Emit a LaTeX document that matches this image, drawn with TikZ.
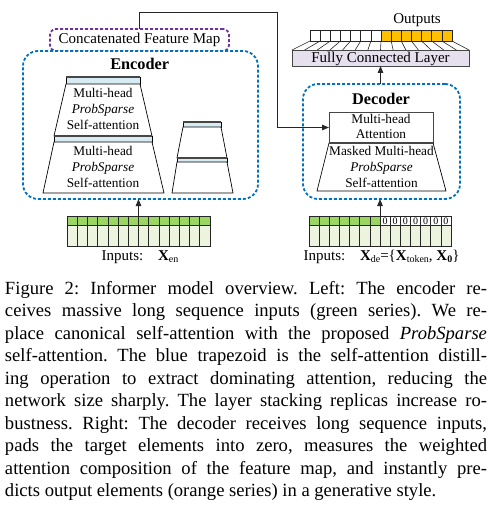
\documentclass[tikz,border=0pt]{standalone}
\usepackage{fontspec}
\setmainfont{Liberation Serif}
\usetikzlibrary{arrows.meta,calc}
\definecolor{dblue}{RGB}{0,112,192}
\definecolor{dpurple}{RGB}{112,48,160}
\definecolor{capblue}{RGB}{214,235,242}
\definecolor{capedge}{RGB}{70,70,70}
\definecolor{ggreen}{RGB}{156,214,98}
\definecolor{lgreen}{RGB}{236,244,224}
\definecolor{orng}{RGB}{255,192,0}
\definecolor{fcfill}{RGB}{230,224,238}
\frenchspacing
\begin{document}
\begin{tikzpicture}[x=1pt,y=-1pt,
  every node/.style={inner sep=0pt,outer sep=0pt},
  bluedash/.style={draw=dblue,line width=1.8pt,dash pattern=on 3pt off 2pt,rounded corners=15pt},
  purpledash/.style={draw=dpurple,line width=1.8pt,dash pattern=on 3pt off 2pt,rounded corners=6pt},
  capbox/.style={fill=capblue,draw=black,line width=0.6pt},
  captop/.style={draw=capedge,line width=1.6pt},
  trap/.style={draw=black,line width=0.7pt,fill=white},
  arr/.style={draw=black!85,line width=1pt,-{Triangle[length=7pt,width=5.5pt]}},
  lbl/.style={font=\fontsize{15}{18}\selectfont,anchor=base},
  inner/.style={font=\fontsize{13.3}{16}\selectfont,align=center,anchor=base},
  cellline/.style={draw=black!85,line width=0.7pt},
  capt/.style={font=\fontsize{18.6}{22.5}\selectfont,anchor=base west}
]
\useasboundingbox (0,0) rectangle (495,505);

% ---------------- Encoder ----------------
\node[purpledash,minimum width=179pt,minimum height=22pt] (cfm) at (139.5,40) {};
\node[lbl] (cfmtxt) at (139.5,44) {Concatenated Feature Map};
\node[bluedash,fill=white,minimum width=235pt,minimum height=148pt] (enc) at (140.5,125) {};
\node[font=\fontsize{16.3}{18}\selectfont\bfseries,anchor=base] (enctitle) at (139.7,70) {Encoder};

% big stack
\draw[capbox] (66,77) rectangle (140,84);
\draw[captop] (66,77) -- (140,77);
\draw[trap] (66,84) -- (140,84) -- (152,136) -- (54,136) -- cycle;
\draw[capbox] (54,136) rectangle (152,142);
\draw[captop] (54,136) -- (152,136);
\draw[trap] (54,142) -- (152,142) -- (164,193) -- (43,193) -- cycle;
\node[inner] (t1) at (103,129.3) {Multi-head\\\textit{ProbSparse}\\Self-attention};
\node[inner] (t2) at (103,187.3) {Multi-head\\\textit{ProbSparse}\\Self-attention};

% small stack
\draw[capbox] (183,122) rectangle (221,127);
\draw[captop] (183,122) -- (221,122);
\draw[trap] (183,127) -- (221,127) -- (227,158) -- (177,158) -- cycle;
\draw[capbox] (177,158) rectangle (227,162);
\draw[captop] (177,158) -- (227,158);
\draw[trap] (177,162) -- (227,162) -- (233,193) -- (172,193) -- cycle;

% encoder input
\node[minimum width=143pt,minimum height=30pt] (encin) at (138.5,231) {};
\fill[ggreen] (encin.north west) rectangle (210,225.5);
\fill[lgreen] (67,225.5) rectangle (encin.south east);
\foreach \i in {1,...,13} \draw[cellline] (67+\i*143/14,216) -- (67+\i*143/14,246);
\draw[cellline] (67,225.5) -- (210,225.5);
\draw[cellline] (encin.north west) rectangle (encin.south east);
\draw[arr] (encin.north) -- (encin.north |- enc.south);
\node[lbl] (encinlbl) at (122.5,260) {Inputs:};
\node[lbl,anchor=base west] (xen) at (158,260) {\textbf{X}\raisebox{-2.5pt}{\fontsize{10}{10}\selectfont en}};

% ---------------- Decoder ----------------
\node[bluedash,minimum width=157pt,minimum height=115pt] (dec) at (381.5,141.5) {};
\node[font=\fontsize{16.3}{18}\selectfont\bfseries,anchor=base] (dectitle) at (381,105) {Decoder};
\node[draw=capedge,line width=0.9pt,fill=white,minimum width=104pt,minimum height=31pt] (mha) at (381,127.5) {};
\node[inner,font=\fontsize{13.3}{15}\selectfont] (mhatxt) at (381,138.3) {Multi-head\\Attention};
\draw[trap] (329,143) -- (433,143) -- (446,191) -- (317,191) -- cycle;
\draw[captop] (329,143) -- (433,143);
\node[inner] (t3) at (381.5,187) {Masked Multi-head\\\textit{ProbSparse}\\Self-attention};

% FC + outputs
\node[draw=capedge,line width=0.8pt,fill=fcfill,minimum width=177pt,minimum height=16pt] (fc) at (380.5,58) {};
\node[lbl] (fctxt) at (380.5,63) {Fully Connected Layer};
\node[minimum width=142pt,minimum height=11pt] (outg) at (381,35.5) {};
\fill[orng] (381,30) rectangle (outg.south east);
\foreach \i in {1,...,13} \draw[cellline] (310+\i*142/14,30) -- (310+\i*142/14,41);
\draw[cellline] (outg.north west) rectangle (outg.south east);
\foreach \i in {0,...,14} \draw[draw=black!85,line width=0.6pt] ($(outg.south west)!\i/14!(outg.south east)$) -- ($(fc.north west)!\i/14!(fc.north east)$);
\node[lbl] (outlbl) at (417,23.5) {Outputs};
\draw[arr] (fc.south |- dec.north) -- (fc.south);

% decoder input
\node[minimum width=142pt,minimum height=30pt] (decin) at (380,231) {};
\fill[ggreen] (decin.north west) rectangle (380,225.5);
\fill[lgreen] (309,225.5) rectangle (decin.south east);
\foreach \i in {1,...,13} \draw[cellline] (309+\i*142/14,216) -- (309+\i*142/14,246);
\draw[cellline] (309,225.5) -- (451,225.5);
\draw[cellline] (decin.north west) rectangle (decin.south east);
\foreach \i in {7,...,13} \node[font=\fontsize{10}{10}\selectfont] (z\i) at (309+\i*142/14+142/28,221) {0};
\draw[arr] (decin.north) -- (decin.north |- dec.south);
\node[lbl] (decinlbl) at (324.5,260) {Inputs:};
\node[lbl,anchor=base west] (xde) at (360,260) {\textbf{X}\raisebox{-2.5pt}{\fontsize{10}{10}\selectfont de}=\{\textbf{X}\raisebox{-2.5pt}{\fontsize{10}{10}\selectfont token}, \textbf{X}\raisebox{-2.5pt}{\fontsize{10}{10}\selectfont\bfseries 0}\}};

% feature map connector
\coordinate (c1) at (277,13);
\draw[arr] (cfm.north) |- (c1) |- (mha.west);

% ---------------- Caption ----------------
\node[capt] (l1) at (5,294.3) {\makebox[482pt][s]{Figure 2: Informer model overview. Left: The encoder re-}};
\node[capt] (l2) at (5,316.8) {\makebox[482pt][s]{ceives massive long sequence inputs (green series). We re-}};
\node[capt] (l3) at (5,339.3) {\makebox[482pt][s]{place canonical self-attention with the proposed \textit{ProbSparse}}};
\node[capt] (l4) at (5,361.8) {\makebox[482pt][s]{self-attention. The blue trapezoid is the self-attention distill-}};
\node[capt] (l5) at (5,384.3) {\makebox[482pt][s]{ing operation to extract dominating attention, reducing the}};
\node[capt] (l6) at (5,406.8) {\makebox[482pt][s]{network size sharply. The layer stacking replicas increase ro-}};
\node[capt] (l7) at (5,429.3) {\makebox[482pt][s]{bustness. Right: The decoder receives long sequence inputs,}};
\node[capt] (l8) at (5,451.8) {\makebox[482pt][s]{pads the target elements into zero, measures the weighted}};
\node[capt] (l9) at (5,474.3) {\makebox[482pt][s]{attention composition of the feature map, and instantly pre-}};
\node[capt] (l10) at (5,496.8) {dicts output elements (orange series) in a generative style.};
\end{tikzpicture}
\end{document}
